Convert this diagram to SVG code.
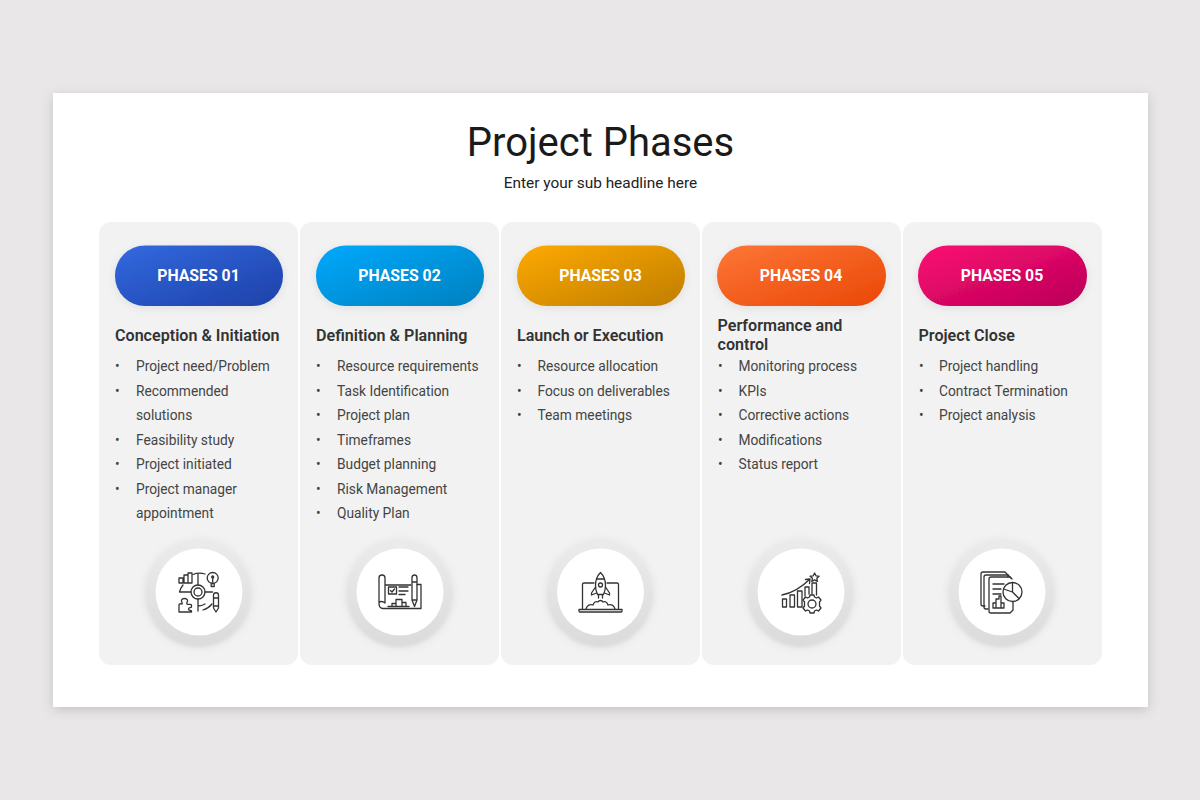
<svg xmlns="http://www.w3.org/2000/svg" width="1200" height="800" viewBox="0 0 1200 800">
<style>
text{font-family:Roboto,"Liberation Sans",sans-serif}
.card{fill:#f2f2f2}
.pt{font-size:15.800px;font-weight:700;fill:#fff;text-anchor:middle}
.h{font-size:16.100px;font-weight:600;fill:#333}
.li text{font-size:13.750px;fill:#444}
.halo{fill:#e9e9e9;filter:url(#blur2)}
.ring{fill:url(#rg);filter:url(#blur)}
.disc{fill:#fff}
.ic{fill:none;stroke:#333;stroke-width:1.300;stroke-linecap:round;stroke-linejoin:round}
</style>
<defs>
<filter id="ps" x="-5%" y="-5%" width="110%" height="112%"><feDropShadow dx="0" dy="3" stdDeviation="6" flood-color="#000" flood-opacity=".16"/></filter>
<filter id="blur" x="-20%" y="-20%" width="140%" height="140%"><feGaussianBlur stdDeviation="1.500"/></filter>
<filter id="blur2" x="-20%" y="-20%" width="140%" height="140%"><feGaussianBlur stdDeviation="3"/></filter>
<filter id="pillS" x="-10%" y="-20%" width="120%" height="150%"><feDropShadow dx="0" dy="2" stdDeviation="4" flood-color="#000" flood-opacity=".08"/></filter>
<linearGradient id="rg" x1="0" y1="0" x2="0" y2="1"><stop offset="0" stop-color="#ebebeb"/><stop offset=".5" stop-color="#e3e3e3"/><stop offset="1" stop-color="#dbdbdb"/></linearGradient>
<linearGradient id="g1" x1="0" y1="0" x2="1" y2="1"><stop offset="0" stop-color="#3369e0"/><stop offset="1" stop-color="#1d41a8"/></linearGradient>
<linearGradient id="g2" x1="0" y1="0" x2="1" y2="1"><stop offset="0" stop-color="#02a9fd"/><stop offset="1" stop-color="#0280be"/></linearGradient>
<linearGradient id="g3" x1="0" y1="0" x2="1" y2="1"><stop offset="0" stop-color="#fda906"/><stop offset="1" stop-color="#c07e06"/></linearGradient>
<linearGradient id="g4" x1="0" y1="0" x2="1" y2="1"><stop offset="0" stop-color="#fd7637"/><stop offset="1" stop-color="#ea4706"/></linearGradient>
<linearGradient id="g5" x1="0" y1="0" x2="1" y2="1"><stop offset="0" stop-color="#fc0d72"/><stop offset="1" stop-color="#b90058"/></linearGradient>
</defs>
<rect width="1200" height="800" fill="#e9e7e8"/>
<rect x="53" y="93" width="1095" height="614" fill="#fff" filter="url(#ps)"/>
<text x="600.500" y="155.500" font-size="40" fill="#1a1a1a" text-anchor="middle">Project Phases</text>
<text x="600.500" y="187.500" font-size="15.400" fill="#222" text-anchor="middle">Enter your sub headline here</text>

<g id="phase-1">
<rect class="card" x="99" y="222" width="199" height="443" rx="12"/>
<rect x="115" y="245.500" width="168" height="60.500" rx="30" fill="url(#g1)" filter="url(#pillS)"/>
<text class="pt" x="198.500" y="281">PHASES 01</text>
<text class="h" x="115" y="341">Conception &amp; Initiation</text>
<g class="li"><text x="115" y="370.500">•</text><text x="136" y="370.500">Project need/Problem</text>
<text x="115" y="395.500">•</text><text x="136" y="395.500">Recommended</text>
<text x="136" y="419.500">solutions</text>
<text x="115" y="444.500">•</text><text x="136" y="444.500">Feasibility study</text>
<text x="115" y="468.500">•</text><text x="136" y="468.500">Project initiated</text>
<text x="115" y="493.500">•</text><text x="136" y="493.500">Project manager</text>
<text x="136" y="518">appointment</text></g>
<circle class="halo" cx="198.500" cy="594" r="56"/>
<circle class="ring" cx="198.500" cy="594" r="53"/>
<circle class="disc" cx="199" cy="592" r="43.500"/>
<g class="ic">
<path d="M179 583v-5h4v5zM184 583v-8h4v8zM188 583v-10h4v10z"/>
<circle cx="198" cy="592" r="7"/><circle cx="198" cy="592" r="4"/>
<path d="M193 574.500a18 18 0 0 1 12-.500M183 585a18 18 0 0 0-3.500 7M198 573.500v11.500M198 599v12M180 592h11M205 592h7.500M203 610a18 18 0 0 0 9-6M198 606a14 14 0 0 0 7-2"/>
<circle cx="212.700" cy="578" r="5.500"/><path d="M211.200 583.500h3v3h-3zM212.700 577v5"/><circle cx="212.700" cy="577" r="1"/>
<path d="M213.500 595c0-3 5-3 5 0v13l-2.500 4-2.500-4zM213.500 598h5M213.500 606h5"/>
<path d="M179 612v-7c0-2 2-1 3-1 1-1-1-2-.500-4 1-2 5-2 6 0 .5 2-1.500 3-.5 4 1 1 4-.5 4.500 1v2c-1 1-3 0-3 2s2 1 3 2v1z"/>
</g>
</g>

<g id="phase-2">
<rect class="card" x="300" y="222" width="199" height="443" rx="12"/>
<rect x="316" y="245.500" width="168" height="60.500" rx="30" fill="url(#g2)" filter="url(#pillS)"/>
<text class="pt" x="399.500" y="281">PHASES 02</text>
<text class="h" x="316" y="341">Definition &amp; Planning</text>
<g class="li"><text x="316" y="370.500">•</text><text x="337" y="370.500">Resource requirements</text>
<text x="316" y="395.500">•</text><text x="337" y="395.500">Task Identification</text>
<text x="316" y="419.500">•</text><text x="337" y="419.500">Project plan</text>
<text x="316" y="444.500">•</text><text x="337" y="444.500">Timeframes</text>
<text x="316" y="468.500">•</text><text x="337" y="468.500">Budget planning</text>
<text x="316" y="493.500">•</text><text x="337" y="493.500">Risk Management</text>
<text x="316" y="518">•</text><text x="337" y="518">Quality Plan</text></g>
<circle class="halo" cx="399.500" cy="594" r="56"/>
<circle class="ring" cx="399.500" cy="594" r="53"/>
<circle class="disc" cx="400" cy="592" r="43.500"/>
<g class="ic">
<path d="M379 603v-25c0-4 6-4 6 0v25M379 603c0 4 2 5.500 4 5.500h38v-24h-4M385 603c-2-2-6-2-6 0M385 585h26"/>
<rect x="388.500" y="587" width="8" height="7"/><path d="M390.500 590.500l1.500 1.500 2.500-3M399 587h9M399 591h9M399 594.500h6"/>
<path d="M388 606.500h4v-3h4v-4h6v3h4v4h3M396 606.500v-3M402 606.500v-4M392 606.500h14"/>
<path d="M412 578c0-4 5-4 5 0v22l-2.500 6.500-2.500-6.500zM412 582h5M412 600h5"/>
</g>
</g>

<g id="phase-3">
<rect class="card" x="501" y="222" width="199" height="443" rx="12"/>
<rect x="517" y="245.500" width="168" height="60.500" rx="30" fill="url(#g3)" filter="url(#pillS)"/>
<text class="pt" x="600.500" y="281">PHASES 03</text>
<text class="h" x="517" y="341">Launch or Execution</text>
<g class="li"><text x="517" y="370.500">•</text><text x="537.500" y="370.500">Resource allocation</text>
<text x="517" y="395.500">•</text><text x="537.500" y="395.500">Focus on deliverables</text>
<text x="517" y="419.500">•</text><text x="537.500" y="419.500">Team meetings</text></g>
<circle class="halo" cx="600" cy="594" r="56"/>
<circle class="ring" cx="600" cy="594" r="53"/>
<circle class="disc" cx="600.500" cy="592" r="43.500"/>
<g class="ic">
<path d="M594 583h-10c-1 0-1.500.5-1.500 1.500v24M607 583h10c1 0 1.500.5 1.500 1.500v24"/>
<path d="M579 609.500h43v1.500c0 .5-.5 1-1 1h-41c-.5 0-1-.5-1-1z"/>
<path d="M600.500 572.500c-4 4-5 9-5 13 0 4 1 7 2 9h6c1-2 2-5 2-9 0-4-1-9-5-13zM596.500 579h8"/>
<circle cx="600.500" cy="585" r="2"/>
<path d="M595.500 587l-4 6v2l5-2M605.500 587l4 6v2l-5-2M598.500 595v3M602.500 595v3"/>
<path d="M586 609c1-4 4-5 7-4 1-3 3-4 5-3 1-2 4-2 5 0 2-1 4 0 5 3 3-1 6 0 7 4"/>
</g>
</g>

<g id="phase-4">
<rect class="card" x="702" y="222" width="199" height="443" rx="12"/>
<rect x="717" y="245.500" width="169" height="60.500" rx="30" fill="url(#g4)" filter="url(#pillS)"/>
<text class="pt" x="801" y="281">PHASES 04</text>
<text class="h" x="717.500" y="331">Performance and</text>
<text class="h" x="717.500" y="350">control</text>
<g class="li"><text x="718" y="370.500">•</text><text x="738.500" y="370.500">Monitoring process</text>
<text x="718" y="395.500">•</text><text x="738.500" y="395.500">KPIs</text>
<text x="718" y="419.500">•</text><text x="738.500" y="419.500">Corrective actions</text>
<text x="718" y="444.500">•</text><text x="738.500" y="444.500">Modifications</text>
<text x="718" y="468.500">•</text><text x="738.500" y="468.500">Status report</text></g>
<circle class="halo" cx="800.500" cy="594" r="56"/>
<circle class="ring" cx="800.500" cy="594" r="53"/>
<circle class="disc" cx="801" cy="592" r="43.500"/>
<g class="ic">
<path d="M782.500 607v-8h4v8zM790 607v-12h4.500v12zM797.500 607v-16h4.500v16zM805 596v-9h4v7M812 594v-11h4.500v12"/>
<path d="M782 595c10-2 20-8 28-16M805.500 579.500l4.500-.5-.5 4.500"/>
<path d="M814.600 573l1.400 2.800 3.100.4-2.300 2.100.6 3.100-2.800-1.500-2.800 1.500.6-3.100-2.300-2.100 3.100-.4z"/>
<circle cx="812" cy="604" r="4"/>
<path d="M810 595h4l.5 2 2 1 2-1 2.500 3-1.500 2v4l1.500 2-2.500 3-2-1-2 1-.5 2h-4l-.5-2-2-1-2 1-2.500-3 1.500-2v-4l-1.500-2 2.500-3 2 1 2-1z"/>
</g>
</g>

<g id="phase-5">
<rect class="card" x="903" y="222" width="199" height="443" rx="12"/>
<rect x="918" y="245.500" width="169" height="60.500" rx="30" fill="url(#g5)" filter="url(#pillS)"/>
<text class="pt" x="1002" y="281">PHASES 05</text>
<text class="h" x="918.500" y="341">Project Close</text>
<g class="li"><text x="919" y="370.500">•</text><text x="939" y="370.500">Project handling</text>
<text x="919" y="395.500">•</text><text x="939" y="395.500">Contract Termination</text>
<text x="919" y="419.500">•</text><text x="939" y="419.500">Project analysis</text></g>
<circle class="halo" cx="1001.500" cy="594" r="56"/>
<circle class="ring" cx="1001.500" cy="594" r="53"/>
<circle class="disc" cx="1002" cy="592" r="43.500"/>
<g class="ic">
<path d="M985 606h-2c-1 0-2-1-2-2v-30c0-1 1-2 2-2h22l3 3v2"/>
<path d="M988 609h-2c-1 0-2-1-2-2v-30c0-1 1-2 2-2h22l3 3"/>
<path d="M1012 579l-2-2h-19c-1 0-2 1-2 2v32c0 1 1 2 2 2h19l3-3v-8"/>
<path d="M993 584h11M993 589h8M993 594h8"/>
<path d="M993 608v-5h3v-4h3v-3h2v7h3v5zM996 603v5M1001 603v5"/>
<circle cx="1012.500" cy="592" r="9.500"/><path d="M1012.500 582.500v9.500l6.500 6.500M1012.500 592l-9-3"/>
</g>
</g>
<g id="connectors"/>
</svg>
